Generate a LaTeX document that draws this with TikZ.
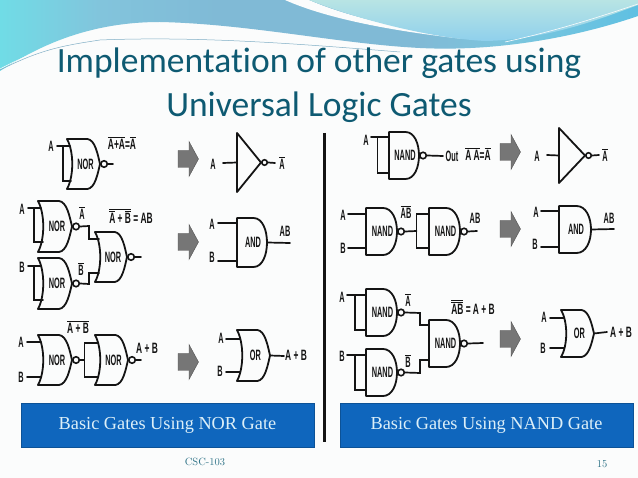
\documentclass[tikz,border=0pt]{standalone}
\usepackage{fontspec}
\usepackage{graphicx}
\newfontfamily\labelfont{Liberation Sans}
\newfontfamily\titlefont[Ligatures=CommonOff]{Carlito}
\newfontfamily\boxfont{Liberation Serif}
\definecolor{pagebg}{HTML}{FBFCFC}
\definecolor{titleblue}{HTML}{0E5A72}
\definecolor{boxblue}{HTML}{0F66BD}
\definecolor{boxtext}{HTML}{DCEFF8}
\definecolor{foot}{HTML}{2F7387}
\definecolor{ink}{HTML}{141414}
\definecolor{arrowgrey}{HTML}{767676}
\definecolor{bandA}{HTML}{70DCE6}
\definecolor{bandB}{HTML}{82C4DC}
\definecolor{bandC}{HTML}{80BAD6}
\definecolor{bandD}{HTML}{7CC6DE}
\definecolor{bandE}{HTML}{5FC0E2}
\definecolor{lightA}{HTML}{B8E4E4}
\definecolor{lightB}{HTML}{8FD0EC}
\pgfdeclarehorizontalshading{bandshade}{100bp}{color(0bp)=(bandA);color(25bp)=(bandA);color(33bp)=(bandB);color(42bp)=(bandC);color(58bp)=(bandC);color(65bp)=(bandD);color(75bp)=(bandE);color(100bp)=(bandE)}
\newcommand{\nar}[1]{\scalebox{.49}[1]{\labelfont\fontsize{15}{16}\bfseries\selectfont #1}}
\newcommand{\narw}[1]{\scalebox{.56}[1]{\labelfont\fontsize{15}{16}\bfseries\selectfont #1}}
\newcommand{\ob}[1]{$\overline{\mbox{#1}}$}
\newcommand{\osn}[1]{{\addfontfeature{Numbers=OldStyle}#1}}
\tikzset{
  wire/.style={draw=ink,line width=1.7pt,line cap=round,line join=miter},
  body/.style={draw=ink,line width=1.8pt,fill=none,line join=round},
  bub/.style={circle,draw=ink,line width=1.6pt,inner sep=0pt,minimum size=6.5pt,fill=pagebg},
  lbl/.style={text=ink,inner sep=0pt,font=\normalsize},
  bluebox/.style={draw=boxblue!80!black,line width=.8pt,fill=boxblue,text=boxtext,inner sep=0pt,
    font=\boxfont\fontsize{18.3}{20}\selectfont},
  bigarrow/.style={fill=arrowgrey,draw=arrowgrey!70!black,line width=.4pt},
  titletxt/.style={text=titleblue,inner sep=0pt,font=\titlefont\fontsize{35.5}{40}\selectfont},
  foottxt/.style={text=foot,inner sep=0pt,font=\fontsize{10.5}{12}\selectfont},
}
\newcommand{\andbody}[5]{\begin{scope}[shift={(#2,#3)}]
  \draw[body] (0,0) -- ({.55*#4},0) .. controls ({.85*#4},0) and (#4,{.25*#5}) .. (#4,{.5*#5})
     .. controls (#4,{.75*#5}) and ({.85*#4},#5) .. ({.55*#4},#5) -- (0,#5) -- cycle;
  \coordinate (#1-c) at ({.5*#4+1},{.5*#5});
  \coordinate (#1-t) at (#4,{.5*#5});
  \end{scope}}
\newcommand{\orbody}[5]{\begin{scope}[shift={(#2,#3)}]
  \draw[body] (0,0) -- ({.62*#4},0) .. controls ({.85*#4},{.02*#5}) and ({.93*#4},{.3*#5}) .. (#4,{.5*#5})
     .. controls ({.93*#4},{.7*#5}) and ({.85*#4},{.98*#5}) .. ({.62*#4},#5) -- (0,#5)
     .. controls (7,{.75*#5}) and (7,{.25*#5}) .. (0,0) -- cycle;
  \coordinate (#1-c) at ({.5*#4+2},{.5*#5});
  \coordinate (#1-t) at (#4,{.5*#5});
  \end{scope}}
\newcommand{\NORG}[5]{\orbody{#1}{#2}{#3}{#4}{#5}
  \node[lbl] (#1) at (#1-c) {\nar{NOR}};
  \node[bub,anchor=west] (#1-b) at (#1-t) {};}
\newcommand{\NANDG}[5]{\andbody{#1}{#2}{#3}{#4}{#5}
  \node[lbl] (#1) at (#1-c) {\nar{NAND}};
  \node[bub,anchor=west] (#1-b) at (#1-t) {};}
\newcommand{\ANDG}[5]{\andbody{#1}{#2}{#3}{#4}{#5}
  \node[lbl] (#1) at (#1-c) {\nar{AND}};}
\newcommand{\ORG}[5]{\orbody{#1}{#2}{#3}{#4}{#5}
  \node[lbl] (#1) at (#1-c) {\nar{OR}};}
\newcommand{\INV}[5]{%
  \draw[body] (#2,#3) -- (#2,#4) -- (#5,{.5*(#3+#4)}) -- cycle;
  \coordinate (#1-w) at (#2,{.5*(#3+#4)});
  \node[bub,anchor=west,minimum size=5.5pt] (#1-b) at (#5,{.5*(#3+#4)}) {};}
\newcommand{\FAT}[3]{%
  \draw[bigarrow] (#2,#3-8.5) -- (#2+11,#3-8.5) -- (#2+11,#3-17.5) -- (#2+20.5,#3)
     -- (#2+11,#3+17.5) -- (#2+11,#3+8.5) -- (#2,#3+8.5) -- cycle;
  \coordinate (#1) at (#2,#3);}
\begin{document}
\begin{tikzpicture}[x=1pt,y=-1pt]
\useasboundingbox (0,0) rectangle (638,478);
\fill[pagebg] (0,0) rectangle (638,478);
% header waves
\shade[shading=bandshade]
  (0,71) .. controls (40,45) and (90,22) .. (160,22) .. controls (250,24) and (340,44) .. (420,48)
  .. controls (500,52) and (580,36) .. (638,16) -- (638,0) -- (0,0) -- cycle;
\fill[pagebg] (285,0) .. controls (330,20) and (400,32) .. (464,39) .. controls (410,30) and (350,18) .. (309,0) -- cycle;
\shade[top color=lightA,bottom color=lightB]
  (309,0) .. controls (360,20) and (430,38) .. (485,41) .. controls (550,40) and (610,15) .. (638,5) -- (638,0) -- cycle;
\draw[pagebg,line width=.6pt] (505,42) .. controls (560,30) and (605,15) .. (638,4);
\draw[pagebg,line width=.6pt] (0,69) .. controls (40,48) and (60,44) .. (100,38) .. controls (200,34) and (300,40) .. (400,50);
\draw[bandC!80!gray,line width=.5pt] (0,70) .. controls (40,50) and (60,46) .. (100,40) .. controls (200,36) and (300,44) .. (400,52);
% title
\node[titletxt] (t1) at (319,63.5) {Implementation of other gates using};
\node[titletxt] (t2) at (319,107) {Universal Logic Gates};
% divider
\draw[ink,line width=2.4pt] (324.5,133) coordinate (d1) -- (324.5,442) coordinate (d2);

% ---- left column, row 1
\NORG{g1}{67}{139}{33}{50}
\node[lbl] (l1a) at (51,146) {\nar{A}};
\coordinate (g1i) at (70,146); \coordinate (g1j) at (71,181);
\draw[wire] (57,146) coordinate (l1w) -- (g1i);
\draw[wire] (63,146) coordinate (l1k) -- (63,181) -- (g1j);
\draw[wire] (g1-b.east) -- (113,164) coordinate (g1o);
\node[lbl] (l1q) at (122,143) {\narw{\ob{A+A}=\ob{A}}};
\FAT{fa1}{178}{159}
\INV{i1}{237}{133}{192}{261}
\node[lbl] (l1x) at (213,164) {\nar{A}};
\coordinate (i1s) at (223,163); \draw[wire] (i1s) -- (i1-w);
\coordinate (i1o) at (275,163); \draw[wire] (i1-b.east) -- (i1o);
\node[lbl] (l1y) at (282,163) {\nar{\ob{A}}};

% ---- left column, row 2
\NORG{g2}{38}{201}{34}{51}
\NORG{g3}{38}{258}{34}{51}
\NORG{g4}{95}{232}{32}{50}
\node[lbl] (l2a) at (22,209) {\nar{A}};
\node[lbl] (l2b) at (22,267) {\nar{B}};
\coordinate (g2s) at (28,208); \coordinate (g3s) at (28,266);
\draw[wire] (g2s) -- (41,208);
\draw[wire] (34,208) -- (34,242) -- (43,242);
\draw[wire] (g3s) -- (41,266);
\draw[wire] (34,266) -- (34,300) -- (43,300);
\draw[wire] (g2-b.east) -- (89,226) -- (89,239) -- (99,239);
\draw[wire] (g3-b.east) -- (89,284) -- (89,273) -- (99,273);
\coordinate (g4o) at (141,257); \draw[wire] (g4-b.east) -- (g4o);
\node[lbl] (l2c) at (82,213) {\nar{\ob{A}}};
\node[lbl] (l2d) at (81,269) {\nar{\ob{B}}};
\node[lbl] (l2q) at (131,216) {\narw{$\overline{\mbox{\ob{A} + \ob{B}}}$ = AB}};
\FAT{fa2}{178}{242}
\ANDG{a1}{237}{218}{30}{49}
\node[lbl] (l2x) at (212,224) {\nar{A}};
\node[lbl] (l2y) at (212,257) {\nar{B}};
\coordinate (a1s) at (218,223); \coordinate (a1r) at (218,261);
\draw[wire] (a1s) -- (237,223); \draw[wire] (a1r) -- (237,261);
\coordinate (a1o) at (290,243); \draw[wire] (a1-t) -- (a1o);
\node[lbl] (l2z) at (285,231) {\nar{AB}};

% ---- left column, row 3
\NORG{g5}{38}{335}{34}{50}
\NORG{g6}{95}{335}{33}{50}
\node[lbl] (l3a) at (21,342) {\nar{A}};
\node[lbl] (l3b) at (21,377) {\nar{B}};
\coordinate (g5s) at (27,342); \coordinate (g5r) at (27,377);
\draw[wire] (g5s) -- (41,342); \draw[wire] (g5r) -- (41,377);
\coordinate (g6u) at (98,343); \coordinate (g6v) at (98,377);
\draw[wire] (g5-b.east) -- (84,360);
\draw[wire] (g6u) -- (84.5,343) -- (84.5,377) -- (g6v);
\coordinate (g6o) at (141,360); \draw[wire] (g6-b.east) -- (g6o);
\node[lbl] (l3q) at (78,327) {\narw{\ob{A + B}}};
\node[lbl] (l3r) at (147,348) {\narw{A + B}};
\FAT{fa3}{178}{362}
\ORG{o1}{237}{330}{33}{51}
\node[lbl] (l3x) at (221,338) {\nar{A}};
\node[lbl] (l3y) at (220,371) {\nar{B}};
\coordinate (o1s) at (226,339); \coordinate (o1r) at (226,372);
\draw[wire] (o1s) -- (240,339); \draw[wire] (o1r) -- (240,372);
\coordinate (o1o) at (284,356); \draw[wire] (o1-t) -- (o1o);
\node[lbl] (l3z) at (296,355) {\narw{A + B}};

% ---- right column, row 1
\NANDG{n1}{389}{132}{30}{47}
\node[lbl] (r1a) at (366,140) {\nar{A}};
\coordinate (n1s) at (371,137);
\draw[wire] (n1s) -- (389,137);
\draw[wire] (377.5,137) -- (377.5,173) -- (389,173);
\coordinate (n1o) at (443,156); \draw[wire] (n1-b.east) -- (n1o);
\node[lbl] (r1o) at (452,156) {\nar{Out}};
\node[lbl] (r1q) at (478,154) {\narw{\ob{A A}=\ob{A}}};
\FAT{fb1}{500}{152}
\INV{i2}{559}{128}{183}{585}
\node[lbl] (r1x) at (537,156) {\nar{A}};
\coordinate (i2s) at (547,155); \draw[wire] (i2s) -- (i2-w);
\coordinate (i2o) at (599,155); \draw[wire] (i2-b.east) -- (i2o);
\node[lbl] (r1y) at (605,155) {\nar{\ob{A}}};

% ---- right column, row 2
\NANDG{n2}{366}{208}{31}{47}
\NANDG{n3}{429}{208}{31}{47}
\node[lbl] (r2a) at (343,215) {\nar{A}};
\node[lbl] (r2b) at (343,248) {\nar{B}};
\coordinate (n2s) at (348,214); \coordinate (n2r) at (348,248);
\draw[wire] (n2s) -- (366,214); \draw[wire] (n2r) -- (366,248);
\draw[wire] (n2-b.east) -- (416.5,231);
\draw[wire] (429,214) -- (416.5,214) -- (416.5,248) -- (429,248);
\coordinate (n3o) at (477,231); \draw[wire] (n3-b.east) -- (n3o);
\node[lbl] (r2c) at (406,212) {\nar{\ob{AB}}};
\node[lbl] (r2d) at (475,218) {\nar{AB}};
\FAT{fb2}{500}{229}
\ANDG{a2}{559}{206}{32}{47}
\node[lbl] (r2x) at (536,212) {\nar{A}};
\node[lbl] (r2y) at (535,244) {\nar{B}};
\coordinate (a2s) at (541,211); \coordinate (a2r) at (541,247);
\draw[wire] (a2s) -- (559,211); \draw[wire] (a2r) -- (559,247);
\coordinate (a2o) at (614,229); \draw[wire] (a2-t) -- (a2o);
\node[lbl] (r2z) at (609,218) {\nar{AB}};

% ---- right column, row 3
\NANDG{n4}{366}{289}{31}{47}
\NANDG{n5}{366}{349}{31}{47}
\NANDG{n6}{429}{320}{31}{47}
\node[lbl] (r3a) at (342,297) {\nar{A}};
\node[lbl] (r3b) at (342,356) {\nar{B}};
\coordinate (n4s) at (347,295); \coordinate (n5s) at (347,355);
\draw[wire] (n4s) -- (366,295);
\draw[wire] (355,295) -- (355,330) -- (366,330);
\draw[wire] (n5s) -- (366,355);
\draw[wire] (355,355) -- (355,390) -- (366,390);
\draw[wire] (n4-b.east) -- (420,313) -- (420,325) -- (429,325);
\draw[wire] (n5-b.east) -- (420,373) -- (420,360) -- (429,360);
\coordinate (n6o) at (483,343); \draw[wire] (n6-b.east) -- (n6o);
\node[lbl] (r3c) at (408,300) {\nar{\ob{A}}};
\node[lbl] (r3d) at (408,361) {\nar{\ob{B}}};
\node[lbl] (r3q) at (473,307) {\narw{$\overline{\mbox{\ob{A}\ob{B}}}$ = A + B}};
\FAT{fb3}{500}{339}
\ORG{o2}{561}{310}{33}{47}
\node[lbl] (r3x) at (544,317) {\nar{A}};
\node[lbl] (r3y) at (543,348) {\nar{B}};
\coordinate (o2s) at (550,318); \coordinate (o2r) at (550,348);
\draw[wire] (o2s) -- (564,318); \draw[wire] (o2r) -- (564,348);
\coordinate (o2o) at (607,332); \draw[wire] (o2-t) -- (o2o);
\node[lbl] (r3z) at (621,332) {\narw{A + B}};

% blue boxes
\node[bluebox,minimum width=293pt,minimum height=44pt] (b1) at (167.5,425) {Basic Gates Using NOR Gate};
\node[bluebox,minimum width=293pt,minimum height=44pt] (b2) at (486.5,425) {Basic Gates Using NAND Gate};
% footer
\node[foottxt] (f1) at (205,462) {CSC-\osn{103}};
\node[foottxt] (f2) at (602,464) {\osn{15}};
\end{tikzpicture}
\end{document}
